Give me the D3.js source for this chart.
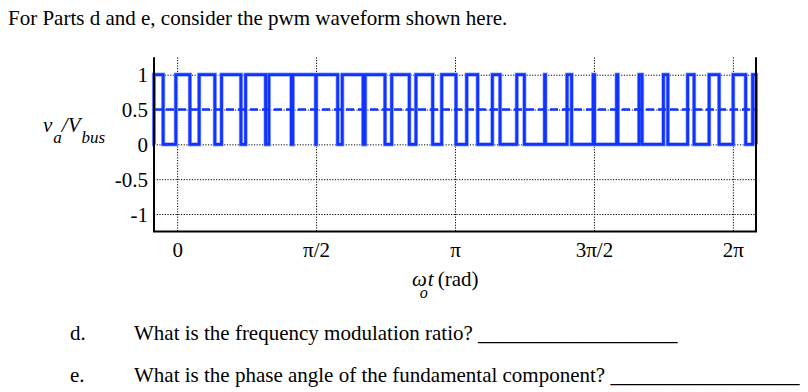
<!DOCTYPE html>
<html>
<head>
<meta charset="utf-8">
<script src="https://cdn.jsdelivr.net/npm/d3@7"></script>
<style>
	body { margin: 0; background: #fff; }
	text { font-family: 'Liberation Serif', 'Times New Roman', serif; fill: #000; }
</style>
</head>
<body>
<div id="chart"></div>
<script>
// data (angles in rad)
var pulseOn = [-0.262, -0.015, 0.249, 0.502, 0.774, 1.037, 1.308, 1.573, 1.867, 2.126,
	2.426, 2.700, 2.991, 3.274, 3.564, 3.840, 4.155, 4.409, 4.704, 4.969,
	5.223, 5.498, 5.772, 6.015, 6.287, 6.507];
var pulseOff = [-0.158, 0.144, 0.426, 0.721, 1.000, 1.291, 1.567, 1.815, 2.103, 2.350,
	2.625, 2.889, 3.153, 3.398, 3.651, 3.926, 4.164, 4.460, 4.719, 4.983,
	5.257, 5.548, 5.845, 6.128, 6.428, 6.545];
var refLevel = 0.5;
var xTicks = [0, Math.PI / 2, Math.PI, 3 * Math.PI / 2, 2 * Math.PI];
var xTickLabels = ['0', 'π/2', 'π', '3π/2', '2π'];
var yTicks = [-1, -0.5, 0, 0.5, 1];
var yTickLabels = ['-1', '-0.5', '0', '0.5', '1'];
var xDomain = [-Math.PI / 12, 2 * Math.PI + Math.PI / 12];
var yDomain = [-1.25, 1.25];

var width = 808, height = 392;
var svg = d3.select('#chart')
	.append('svg')
	.attr('width', width)
	.attr('height', height);

svg.append('rect').attr('width', width).attr('height', height).attr('fill', '#fff');

svg.append('text')
	.attr('x', 8)
	.attr('y', 25)
	.style('font-size', '21px')
	.text('For Parts d and e, consider the pwm waveform shown here.');

var x = d3.scaleLinear().domain(xDomain).range([154, 756]);
var y = d3.scaleLinear().domain(yDomain).range([231.4, 57.3]);

var blue = '#1133ff';

// grid
var grid = svg.append('g');
grid.selectAll('.hgrid')
	.data(yTicks)
	.enter()
	.append('line')
	.attr('x1', x.range()[0]).attr('x2', x.range()[1])
	.attr('y1', function (d) { return y(d) + 0.5; })
	.attr('y2', function (d) { return y(d) + 0.5; })
	.attr('stroke', '#000')
	.attr('stroke-width', 1)
	.attr('stroke-dasharray', '1.2,1.5');
grid.selectAll('.vgrid')
	.data(xTicks)
	.enter()
	.append('line')
	.attr('x1', function (d) { return x(d) + 0.5; })
	.attr('x2', function (d) { return x(d) + 0.5; })
	.attr('y1', y.range()[1]).attr('y2', y.range()[0])
	.attr('stroke', '#000')
	.attr('stroke-width', 1)
	.attr('stroke-dasharray', '1.2,1.5');

// axes (labels only, lines drawn as box)
var x_axis = d3.axisBottom(x)
	.tickValues(xTicks)
	.tickSize(0)
	.tickPadding(11)
	.tickFormat(function (d, i) { return xTickLabels[i]; });
var y_axis = d3.axisLeft(y)
	.tickValues(yTicks)
	.tickSize(0)
	.tickPadding(6)
	.tickFormat(function (d, i) { return yTickLabels[i]; });

var gx = svg.append('g')
	.attr('class', 'x axis')
	.attr('transform', 'translate(0,' + y.range()[0] + ')')
	.call(x_axis);
var gy = svg.append('g')
	.attr('class', 'y axis')
	.attr('transform', 'translate(' + x.range()[0] + ',0)')
	.call(y_axis);
svg.selectAll('.axis .domain').remove();
svg.selectAll('.axis text')
	.style('font-family', "'Liberation Serif', 'Times New Roman', serif")
	.style('font-size', '21px')
	.attr('fill', '#000');
gy.selectAll('text').attr('dy', '0.34em');

// waveform
var pts = [[xDomain[0], 0]];
pulseOn.forEach(function (t, i) {
	pts.push([t, 0], [t, 1], [pulseOff[i], 1], [pulseOff[i], 0]);
});
var line = d3.line()
	.x(function (d) { return x(d[0]); })
	.y(function (d) { return y(d[1]); });

svg.append('path')
	.datum(pts)
	.attr('d', line)
	.attr('fill', 'none')
	.attr('stroke', '#9aabff')
	.attr('stroke-width', 4.2);
svg.append('path')
	.datum(pts)
	.attr('d', line)
	.attr('fill', 'none')
	.attr('stroke', blue)
	.attr('stroke-width', 2.8);

svg.append('line')
	.attr('x1', x.range()[0]).attr('x2', x.range()[1])
	.attr('y1', y(refLevel)).attr('y2', y(refLevel))
	.attr('stroke', blue)
	.attr('stroke-width', 2.6)
	.attr('stroke-dasharray', '8,4');

// box
svg.append('path')
	.attr('d', 'M' + x.range()[0] + ',' + y.range()[1] + 'V' + y.range()[0] + 'H' + x.range()[1] + 'V' + y.range()[1])
	.attr('fill', 'none')
	.attr('stroke', '#000')
	.attr('stroke-width', 2);

// y label
var yl = svg.append('text')
	.attr('x', 43)
	.attr('y', 132)
	.style('font-size', '21px')
	.style('font-style', 'italic');
yl.append('tspan').text('v');
yl.append('tspan').attr('dy', 11).attr('dx', 1).style('font-size', '17px').text('a');
yl.append('tspan').attr('dy', -11).attr('dx', 0).text('/V');
yl.append('tspan').attr('dy', 11).attr('dx', 1).style('font-size', '17px').text('bus');

// x label
var xl = svg.append('text')
	.attr('x', 412)
	.attr('y', 286)
	.style('font-size', '21px');
xl.append('tspan').style('font-style', 'italic').text('ω');
xl.append('tspan').attr('dy', 12).attr('dx', -7).style('font-size', '16px').style('font-style', 'italic').text('o');
xl.append('tspan').attr('dy', -12).attr('dx', 0).style('font-style', 'italic').text('t');
xl.append('tspan').attr('dx', 4).text('(rad)');

// questions
var q = svg.append('g').style('font-size', '21px');
q.append('text').attr('x', 70).attr('y', 340).text('d.');
q.append('text').attr('x', 134).attr('y', 340).text('What is the frequency modulation ratio? ___________________');
q.append('text').attr('x', 70).attr('y', 382).text('e.');
q.append('text').attr('x', 134).attr('y', 382).text('What is the phase angle of the fundamental component? __________________');
</script>
</body>
</html>
